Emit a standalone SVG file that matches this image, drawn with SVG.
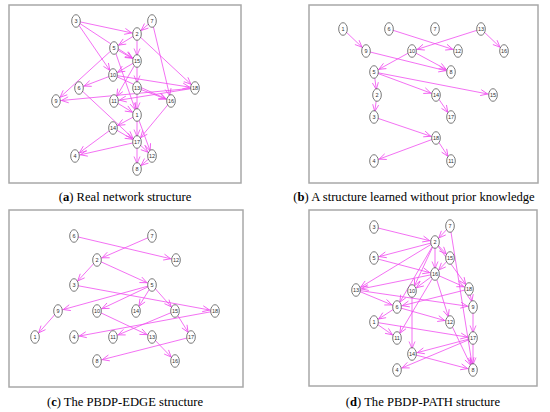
<svg xmlns="http://www.w3.org/2000/svg" width="550" height="412" viewBox="0 0 550 412">
<style>
.frame{fill:none;stroke:#a8a8a8;stroke-width:1.5}
.e line{stroke:#f04cf0;stroke-width:0.8;marker-end:url(#ah)}
.n ellipse{fill:#fff;stroke:#555;stroke-width:0.8}
.n text{font-family:"Liberation Sans",Arial,sans-serif;font-size:5.5px;fill:#333;text-anchor:middle}
.cap{font-family:"Liberation Serif","Times New Roman",serif;font-size:12.6px;fill:#000;text-anchor:middle}
.cap tspan.b{font-weight:bold}
</style>
<defs>
<marker id="ah" markerUnits="userSpaceOnUse" markerWidth="14" markerHeight="8" refX="12.5" refY="3" orient="auto" overflow="visible">
<path d="M0,0 L7,3 L0,6" fill="none" stroke="#f04cf0" stroke-width="0.8"/>
</marker>
</defs>
<rect width="550" height="412" fill="#fff"/>
<g id="frames">
<rect class="frame" x="9" y="5" width="232" height="178"/>
<rect class="frame" x="309" y="5" width="229" height="178"/>
<rect class="frame" x="9" y="210" width="234" height="177"/>
<rect class="frame" x="309" y="210" width="228" height="176"/>
</g>
<g id="captions">
<text class="cap" x="125" y="201">(<tspan class="b">a</tspan>) Real network structure</text>
<text class="cap" x="414" y="201">(<tspan class="b">b</tspan>) A structure learned without prior knowledge</text>
<text class="cap" x="125" y="406">(<tspan class="b">c</tspan>) The PBDP-EDGE structure</text>
<text class="cap" x="423" y="406">(<tspan class="b">d</tspan>) The PBDP-PATH structure</text>
</g>
<g id="connectors" class="e">
<!-- panel a -->
<line x1="76" y1="21" x2="137" y2="34"/>
<line x1="152" y1="21" x2="137" y2="34"/>
<line x1="137" y1="34" x2="114" y2="48"/>
<line x1="76" y1="21" x2="137" y2="61"/>
<line x1="114" y1="48" x2="137" y2="61"/>
<line x1="76" y1="21" x2="113" y2="75"/>
<line x1="137" y1="34" x2="195" y2="88"/>
<line x1="137" y1="34" x2="137" y2="61"/>
<line x1="137" y1="61" x2="137" y2="88"/>
<line x1="152" y1="21" x2="171" y2="101"/>
<line x1="137" y1="61" x2="113" y2="75"/>
<line x1="114" y1="48" x2="56" y2="101"/>
<line x1="113" y1="75" x2="79" y2="88"/>
<line x1="113" y1="75" x2="195" y2="88"/>
<line x1="113" y1="75" x2="171" y2="101"/>
<line x1="137" y1="88" x2="171" y2="101"/>
<line x1="195" y1="88" x2="56" y2="101"/>
<line x1="195" y1="88" x2="114" y2="101"/>
<line x1="137" y1="61" x2="114" y2="101"/>
<line x1="114" y1="48" x2="137" y2="115"/>
<line x1="79" y1="88" x2="137" y2="142"/>
<line x1="137" y1="88" x2="137" y2="115"/>
<line x1="114" y1="101" x2="137" y2="115"/>
<line x1="137" y1="115" x2="113" y2="128"/>
<line x1="171" y1="101" x2="137" y2="142"/>
<line x1="113" y1="128" x2="75" y2="156"/>
<line x1="113" y1="128" x2="137" y2="142"/>
<line x1="137" y1="142" x2="75" y2="156"/>
<line x1="137" y1="142" x2="152" y2="156"/>
<line x1="137" y1="142" x2="137" y2="169"/>
<line x1="152" y1="156" x2="137" y2="169"/>
<line x1="137" y1="115" x2="137" y2="142"/>
<line x1="137" y1="115" x2="152" y2="156"/>
<!-- panel b -->
<line x1="343" y1="29" x2="366" y2="51"/>
<line x1="389" y1="29" x2="458" y2="51"/>
<line x1="481" y1="29" x2="412" y2="51"/>
<line x1="481" y1="29" x2="504" y2="51"/>
<line x1="366" y1="51" x2="451" y2="72"/>
<line x1="412" y1="51" x2="451" y2="72"/>
<line x1="412" y1="51" x2="374" y2="72"/>
<line x1="374" y1="72" x2="377" y2="95"/>
<line x1="374" y1="72" x2="436" y2="95"/>
<line x1="374" y1="72" x2="493" y2="95"/>
<line x1="377" y1="95" x2="374" y2="117"/>
<line x1="436" y1="95" x2="451" y2="117"/>
<line x1="374" y1="117" x2="436" y2="138"/>
<line x1="436" y1="138" x2="374" y2="161"/>
<line x1="436" y1="138" x2="451" y2="161"/>
<!-- panel c -->
<line x1="74" y1="236" x2="176" y2="260"/>
<line x1="152" y1="236" x2="97" y2="260"/>
<line x1="97" y1="260" x2="74" y2="285"/>
<line x1="97" y1="260" x2="152" y2="285"/>
<line x1="74" y1="285" x2="215" y2="311"/>
<line x1="152" y1="285" x2="58" y2="311"/>
<line x1="152" y1="285" x2="97" y2="311"/>
<line x1="152" y1="285" x2="136" y2="311"/>
<line x1="152" y1="285" x2="175" y2="311"/>
<line x1="58" y1="311" x2="35" y2="337"/>
<line x1="97" y1="311" x2="152" y2="337"/>
<line x1="215" y1="311" x2="74" y2="337"/>
<line x1="175" y1="311" x2="113" y2="337"/>
<line x1="175" y1="311" x2="191" y2="337"/>
<line x1="152" y1="337" x2="175" y2="361"/>
<line x1="191" y1="337" x2="97" y2="361"/>
<!-- panel d -->
<line x1="374" y1="227" x2="435" y2="242"/>
<line x1="450" y1="226" x2="435" y2="242"/>
<line x1="435" y1="242" x2="374" y2="258"/>
<line x1="435" y1="242" x2="356" y2="290"/>
<line x1="435" y1="242" x2="450" y2="258"/>
<line x1="435" y1="242" x2="435" y2="274"/>
<line x1="435" y1="242" x2="412" y2="291"/>
<line x1="435" y1="242" x2="397" y2="307"/>
<line x1="435" y1="242" x2="469" y2="289"/>
<line x1="374" y1="258" x2="435" y2="274"/>
<line x1="450" y1="258" x2="435" y2="274"/>
<line x1="435" y1="274" x2="356" y2="290"/>
<line x1="435" y1="274" x2="412" y2="291"/>
<line x1="435" y1="274" x2="469" y2="289"/>
<line x1="435" y1="274" x2="450" y2="322"/>
<line x1="435" y1="274" x2="397" y2="338"/>
<line x1="450" y1="226" x2="473" y2="370"/>
<line x1="356" y1="290" x2="473" y2="307"/>
<line x1="412" y1="291" x2="412" y2="354"/>
<line x1="469" y1="289" x2="473" y2="307"/>
<line x1="469" y1="289" x2="397" y2="307"/>
<line x1="356" y1="290" x2="397" y2="307"/>
<line x1="397" y1="307" x2="374" y2="322"/>
<line x1="397" y1="307" x2="450" y2="322"/>
<line x1="374" y1="322" x2="397" y2="338"/>
<line x1="374" y1="322" x2="473" y2="338"/>
<line x1="450" y1="322" x2="473" y2="370"/>
<line x1="473" y1="307" x2="473" y2="338"/>
<line x1="473" y1="338" x2="473" y2="370"/>
<line x1="473" y1="338" x2="412" y2="354"/>
<line x1="473" y1="338" x2="397" y2="370"/>
<line x1="412" y1="354" x2="473" y2="370"/>
</g>
<g id="nodes-a">
<g id="a3" class="n"><ellipse cx="76" cy="21" rx="4.3" ry="6.3"/><text x="76" y="23">3</text></g>
<g id="a7" class="n"><ellipse cx="152" cy="21" rx="4.3" ry="6.3"/><text x="152" y="23">7</text></g>
<g id="a2" class="n"><ellipse cx="137" cy="34" rx="4.3" ry="6.3"/><text x="137" y="36">2</text></g>
<g id="a5" class="n"><ellipse cx="114" cy="48" rx="4.3" ry="6.3"/><text x="114" y="50">5</text></g>
<g id="a15" class="n"><ellipse cx="137" cy="61" rx="4.3" ry="6.3"/><text x="137" y="63">15</text></g>
<g id="a10" class="n"><ellipse cx="113" cy="75" rx="4.3" ry="6.3"/><text x="113" y="77">10</text></g>
<g id="a6" class="n"><ellipse cx="79" cy="88" rx="4.3" ry="6.3"/><text x="79" y="90">6</text></g>
<g id="a13" class="n"><ellipse cx="137" cy="88" rx="4.3" ry="6.3"/><text x="137" y="90">13</text></g>
<g id="a18" class="n"><ellipse cx="195" cy="88" rx="4.3" ry="6.3"/><text x="195" y="90">18</text></g>
<g id="a9" class="n"><ellipse cx="56" cy="101" rx="4.3" ry="6.3"/><text x="56" y="103">9</text></g>
<g id="a11" class="n"><ellipse cx="114" cy="101" rx="4.3" ry="6.3"/><text x="114" y="103">11</text></g>
<g id="a16" class="n"><ellipse cx="171" cy="101" rx="4.3" ry="6.3"/><text x="171" y="103">16</text></g>
<g id="a1" class="n"><ellipse cx="137" cy="115" rx="4.3" ry="6.3"/><text x="137" y="117">1</text></g>
<g id="a14" class="n"><ellipse cx="113" cy="128" rx="4.3" ry="6.3"/><text x="113" y="130">14</text></g>
<g id="a17" class="n"><ellipse cx="137" cy="142" rx="4.3" ry="6.3"/><text x="137" y="144">17</text></g>
<g id="a12" class="n"><ellipse cx="152" cy="156" rx="4.3" ry="6.3"/><text x="152" y="158">12</text></g>
<g id="a4" class="n"><ellipse cx="75" cy="156" rx="4.3" ry="6.3"/><text x="75" y="158">4</text></g>
<g id="a8" class="n"><ellipse cx="137" cy="169" rx="4.3" ry="6.3"/><text x="137" y="171">8</text></g>
</g>
<g id="nodes-b">
<g id="b1" class="n"><ellipse cx="343" cy="29" rx="4.3" ry="6.3"/><text x="343" y="31">1</text></g>
<g id="b6" class="n"><ellipse cx="389" cy="29" rx="4.3" ry="6.3"/><text x="389" y="31">6</text></g>
<g id="b7" class="n"><ellipse cx="435" cy="29" rx="4.3" ry="6.3"/><text x="435" y="31">7</text></g>
<g id="b13" class="n"><ellipse cx="481" cy="29" rx="4.3" ry="6.3"/><text x="481" y="31">13</text></g>
<g id="b9" class="n"><ellipse cx="366" cy="51" rx="4.3" ry="6.3"/><text x="366" y="53">9</text></g>
<g id="b10" class="n"><ellipse cx="412" cy="51" rx="4.3" ry="6.3"/><text x="412" y="53">10</text></g>
<g id="b12" class="n"><ellipse cx="458" cy="51" rx="4.3" ry="6.3"/><text x="458" y="53">12</text></g>
<g id="b16" class="n"><ellipse cx="504" cy="51" rx="4.3" ry="6.3"/><text x="504" y="53">16</text></g>
<g id="b5" class="n"><ellipse cx="374" cy="72" rx="4.3" ry="6.3"/><text x="374" y="74">5</text></g>
<g id="b8" class="n"><ellipse cx="451" cy="72" rx="4.3" ry="6.3"/><text x="451" y="74">8</text></g>
<g id="b2" class="n"><ellipse cx="377" cy="95" rx="4.3" ry="6.3"/><text x="377" y="97">2</text></g>
<g id="b14" class="n"><ellipse cx="436" cy="95" rx="4.3" ry="6.3"/><text x="436" y="97">14</text></g>
<g id="b15" class="n"><ellipse cx="493" cy="95" rx="4.3" ry="6.3"/><text x="493" y="97">15</text></g>
<g id="b3" class="n"><ellipse cx="374" cy="117" rx="4.3" ry="6.3"/><text x="374" y="119">3</text></g>
<g id="b17" class="n"><ellipse cx="451" cy="117" rx="4.3" ry="6.3"/><text x="451" y="119">17</text></g>
<g id="b18" class="n"><ellipse cx="436" cy="138" rx="4.3" ry="6.3"/><text x="436" y="140">18</text></g>
<g id="b4" class="n"><ellipse cx="374" cy="161" rx="4.3" ry="6.3"/><text x="374" y="163">4</text></g>
<g id="b11" class="n"><ellipse cx="451" cy="161" rx="4.3" ry="6.3"/><text x="451" y="163">11</text></g>
</g>
<g id="nodes-c">
<g id="c6" class="n"><ellipse cx="74" cy="236" rx="4.3" ry="6.3"/><text x="74" y="238">6</text></g>
<g id="c7" class="n"><ellipse cx="152" cy="236" rx="4.3" ry="6.3"/><text x="152" y="238">7</text></g>
<g id="c2" class="n"><ellipse cx="97" cy="260" rx="4.3" ry="6.3"/><text x="97" y="262">2</text></g>
<g id="c12" class="n"><ellipse cx="176" cy="260" rx="4.3" ry="6.3"/><text x="176" y="262">12</text></g>
<g id="c3" class="n"><ellipse cx="74" cy="285" rx="4.3" ry="6.3"/><text x="74" y="287">3</text></g>
<g id="c5" class="n"><ellipse cx="152" cy="285" rx="4.3" ry="6.3"/><text x="152" y="287">5</text></g>
<g id="c9" class="n"><ellipse cx="58" cy="311" rx="4.3" ry="6.3"/><text x="58" y="313">9</text></g>
<g id="c10" class="n"><ellipse cx="97" cy="311" rx="4.3" ry="6.3"/><text x="97" y="313">10</text></g>
<g id="c14" class="n"><ellipse cx="136" cy="311" rx="4.3" ry="6.3"/><text x="136" y="313">14</text></g>
<g id="c15" class="n"><ellipse cx="175" cy="311" rx="4.3" ry="6.3"/><text x="175" y="313">15</text></g>
<g id="c18" class="n"><ellipse cx="215" cy="311" rx="4.3" ry="6.3"/><text x="215" y="313">18</text></g>
<g id="c1" class="n"><ellipse cx="35" cy="337" rx="4.3" ry="6.3"/><text x="35" y="339">1</text></g>
<g id="c4" class="n"><ellipse cx="74" cy="337" rx="4.3" ry="6.3"/><text x="74" y="339">4</text></g>
<g id="c11" class="n"><ellipse cx="113" cy="337" rx="4.3" ry="6.3"/><text x="113" y="339">11</text></g>
<g id="c13" class="n"><ellipse cx="152" cy="337" rx="4.3" ry="6.3"/><text x="152" y="339">13</text></g>
<g id="c17" class="n"><ellipse cx="191" cy="337" rx="4.3" ry="6.3"/><text x="191" y="339">17</text></g>
<g id="c8" class="n"><ellipse cx="97" cy="361" rx="4.3" ry="6.3"/><text x="97" y="363">8</text></g>
<g id="c16" class="n"><ellipse cx="175" cy="361" rx="4.3" ry="6.3"/><text x="175" y="363">16</text></g>
</g>
<g id="nodes-d">
<g id="d3" class="n"><ellipse cx="374" cy="227" rx="4.3" ry="6.3"/><text x="374" y="229">3</text></g>
<g id="d7" class="n"><ellipse cx="450" cy="226" rx="4.3" ry="6.3"/><text x="450" y="228">7</text></g>
<g id="d2" class="n"><ellipse cx="435" cy="242" rx="4.3" ry="6.3"/><text x="435" y="244">2</text></g>
<g id="d5" class="n"><ellipse cx="374" cy="258" rx="4.3" ry="6.3"/><text x="374" y="260">5</text></g>
<g id="d15" class="n"><ellipse cx="450" cy="258" rx="4.3" ry="6.3"/><text x="450" y="260">15</text></g>
<g id="d16" class="n"><ellipse cx="435" cy="274" rx="4.3" ry="6.3"/><text x="435" y="276">16</text></g>
<g id="d13" class="n"><ellipse cx="356" cy="290" rx="4.3" ry="6.3"/><text x="356" y="292">13</text></g>
<g id="d10" class="n"><ellipse cx="412" cy="291" rx="4.3" ry="6.3"/><text x="412" y="293">10</text></g>
<g id="d18" class="n"><ellipse cx="469" cy="289" rx="4.3" ry="6.3"/><text x="469" y="291">18</text></g>
<g id="d6" class="n"><ellipse cx="397" cy="307" rx="4.3" ry="6.3"/><text x="397" y="309">6</text></g>
<g id="d9" class="n"><ellipse cx="473" cy="307" rx="4.3" ry="6.3"/><text x="473" y="309">9</text></g>
<g id="d1" class="n"><ellipse cx="374" cy="322" rx="4.3" ry="6.3"/><text x="374" y="324">1</text></g>
<g id="d12" class="n"><ellipse cx="450" cy="322" rx="4.3" ry="6.3"/><text x="450" y="324">12</text></g>
<g id="d11" class="n"><ellipse cx="397" cy="338" rx="4.3" ry="6.3"/><text x="397" y="340">11</text></g>
<g id="d17" class="n"><ellipse cx="473" cy="338" rx="4.3" ry="6.3"/><text x="473" y="340">17</text></g>
<g id="d14" class="n"><ellipse cx="412" cy="354" rx="4.3" ry="6.3"/><text x="412" y="356">14</text></g>
<g id="d4" class="n"><ellipse cx="397" cy="370" rx="4.3" ry="6.3"/><text x="397" y="372">4</text></g>
<g id="d8" class="n"><ellipse cx="473" cy="370" rx="4.3" ry="6.3"/><text x="473" y="372">8</text></g>
</g>
</svg>
